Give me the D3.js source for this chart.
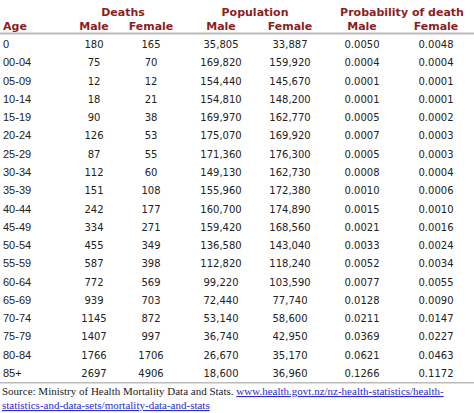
<!DOCTYPE html><html><head><meta charset="utf-8"><script src="https://cdn.jsdelivr.net/npm/d3@7"></script>
<style>body{margin:0;background:#fff}</style></head><body><script>
const ages=["0","00-04","05-09","10-14","15-19","20-24","25-29","30-34","35-39","40-44","45-49","50-54","55-59","60-64","65-69","70-74","75-79","80-84","85+"];
const deathsMale=[180,75,12,18,90,126,87,112,151,242,334,455,587,772,939,1145,1407,1766,2697];
const deathsFemale=[165,70,12,21,38,53,55,60,108,177,271,349,398,569,703,872,997,1706,4906];
const popMale=["35,805","169,820","154,440","154,810","169,970","175,070","171,360","149,130","155,960","160,700","159,420","136,580","112,820","99,220","72,440","53,140","36,740","26,670","18,600"];
const popFemale=["33,887","159,920","145,670","148,200","162,770","169,920","176,300","162,730","172,380","174,890","168,560","143,040","118,240","103,590","77,740","58,600","42,950","35,170","36,960"];
const probMale=["0.0050","0.0004","0.0001","0.0001","0.0005","0.0007","0.0005","0.0008","0.0010","0.0015","0.0021","0.0033","0.0052","0.0077","0.0128","0.0211","0.0369","0.0621","0.1266"];
const probFemale=["0.0048","0.0004","0.0001","0.0001","0.0002","0.0003","0.0003","0.0004","0.0006","0.0010","0.0016","0.0024","0.0034","0.0055","0.0090","0.0147","0.0227","0.0463","0.1172"];
const groups=["Deaths","Population","Probability of death"];
const subs=["Male","Female","Male","Female","Male","Female"];
const svg=d3.select("body").append("svg").attr("width",474).attr("height",413);
const y=d3.scalePoint().domain(ages).range([44,373]);
const cx=[94,151,221,290,362,436], gx=[123,255,402];
const hc="#8b1f1f";
svg.selectAll(".g").data(groups).join("text").attr("x",(d,i)=>gx[i]).attr("y",16).attr("text-anchor","middle")
 .attr("font-family","DejaVu Sans").attr("font-weight","bold").attr("font-size",11).attr("fill",hc).text(d=>d);
svg.append("text").attr("x",3).attr("y",29.5).attr("font-family","DejaVu Sans").attr("font-weight","bold").attr("font-size",11).attr("fill",hc).text("Age");
svg.selectAll(".s").data(subs).join("text").attr("x",(d,i)=>cx[i]).attr("y",29.5).attr("text-anchor","middle")
 .attr("font-family","DejaVu Sans").attr("font-weight","bold").attr("font-size",11).attr("fill",hc).text(d=>d);
svg.append("rect").attr("x",0).attr("y",32.5).attr("width",474).attr("height",2).attr("fill","#bbb");
svg.selectAll(".a").data(ages).join("text").attr("x",3).attr("y",d=>y(d)+4).attr("font-family","Liberation Sans").attr("font-size",11).attr("fill","#222").text(d=>d);
const cols=[deathsMale,deathsFemale,popMale,popFemale,probMale,probFemale];
cols.forEach((c,j)=>{
 svg.selectAll(".c"+j).data(c).join("text").attr("x",cx[j]).attr("y",(d,i)=>y(ages[i])+4).attr("text-anchor","middle")
  .attr("font-family","DejaVu Sans").attr("font-size",10).attr("fill","#222").text(d=>d);
});
svg.append("rect").attr("x",0).attr("y",382).attr("width",474).attr("height",1.5).attr("fill","#bbb");
const src=svg.append("text").attr("x",2).attr("y",395).attr("font-family","Liberation Serif").attr("font-size",11).attr("fill","#222");
src.append("tspan").text("Source: Ministry of Health Mortality Data and Stats. ");
src.append("tspan").attr("fill","#2a2ad0").attr("text-decoration","underline").text("www.health.govt.nz/nz-health-statistics/health-");
svg.append("text").attr("x",2).attr("y",409).attr("font-family","Liberation Serif").attr("font-size",11).attr("fill","#2a2ad0").attr("text-decoration","underline").text("statistics-and-data-sets/mortality-data-and-stats");
</script></body></html>
